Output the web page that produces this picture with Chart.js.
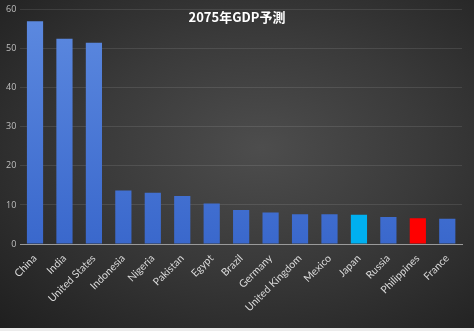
<!DOCTYPE html>
<html>
<head>
<meta charset="utf-8">
<script src="https://cdn.jsdelivr.net/npm/chart.js@4/dist/chart.umd.min.js"></script>
<style>
  html, body { margin: 0; padding: 0; background: #ececec; }
  #wrap {
    width: 474px; height: 328px; position: relative;
    background: radial-gradient(ellipse at 55% 45%, #4d4d4d 0%, #3a3a3a 45%, #1f1f1f 100%);
  }
</style>
</head>
<body>
<div id="wrap"><canvas id="gdpChart" width="474" height="328"></canvas></div>
<script>
const countries = ["China", "India", "United States", "Indonesia", "Nigeria", "Pakistan", "Egypt",
  "Brazil", "Germany", "United Kingdom", "Mexico", "Japan", "Russia", "Philippines", "France"];
const gdp2075 = [57.0, 52.5, 51.5, 13.7, 13.1, 12.3, 10.4, 8.7, 8.1, 7.6, 7.6, 7.5, 6.9, 6.6, 6.5];
const yTicks = [0, 10, 20, 30, 40, 50, 60];
const titleText = "2075年GDP予測";

// bar colours: blue gradient, Japan cyan, Philippines red
function barColor(c) {
  const name = countries[c.dataIndex];
  if (name === "Japan") return "#00b0f0";
  if (name === "Philippines") return "#ff0000";
  const area = c.chart.chartArea;
  if (!area) return "#4472c4";
  const g = c.chart.ctx.createLinearGradient(0, area.top, 0, area.bottom);
  g.addColorStop(0, "#5d8ae0");
  g.addColorStop(1, "#3a68cc");
  return g;
}

// title drawn over the plot, like the original
const overlayTitle = {
  id: "overlayTitle",
  afterDraw(chart) {
    const ctx = chart.ctx;
    ctx.save();
    ctx.fillStyle = "#ffffff";
    ctx.font = "bold 13px 'Noto Sans CJK JP', 'Noto Sans', sans-serif";
    ctx.textAlign = "center";
    ctx.textBaseline = "middle";
    ctx.fillText(titleText, 237, 17);
    ctx.restore();
  }
};

new Chart(document.getElementById("gdpChart"), {
  type: "bar",
  data: {
    labels: countries,
    datasets: [{
      data: gdp2075,
      backgroundColor: barColor,
      borderWidth: 0,
      barPercentage: 0.55,
      categoryPercentage: 1.0
    }]
  },
  options: {
    responsive: false,
    animation: false,
    layout: { padding: { top: 4, right: 12, left: 2, bottom: 6 } },
    plugins: { legend: { display: false }, title: { display: false }, tooltip: { enabled: false } },
    scales: {
      x: {
        grid: { display: false, drawTicks: false },
        border: { color: "#9a9a9a", width: 1 },
        ticks: {
          color: "#d9d9d9", font: { family: "Lato, sans-serif", size: 10.5 },
          minRotation: 45, maxRotation: 45, padding: 8, autoSkip: false
        }
      },
      y: {
        min: 0, max: 60,
        afterBuildTicks(axis) { axis.ticks = yTicks.map(v => ({ value: v })); },
        grid: { color: "rgba(255,255,255,0.10)", drawTicks: false },
        border: { display: false },
        ticks: { color: "#bfbfbf", font: { family: "'Open Sans', sans-serif", size: 9 }, padding: 4 }
      }
    }
  },
  plugins: [overlayTitle]
});
</script>
</body>
</html>
